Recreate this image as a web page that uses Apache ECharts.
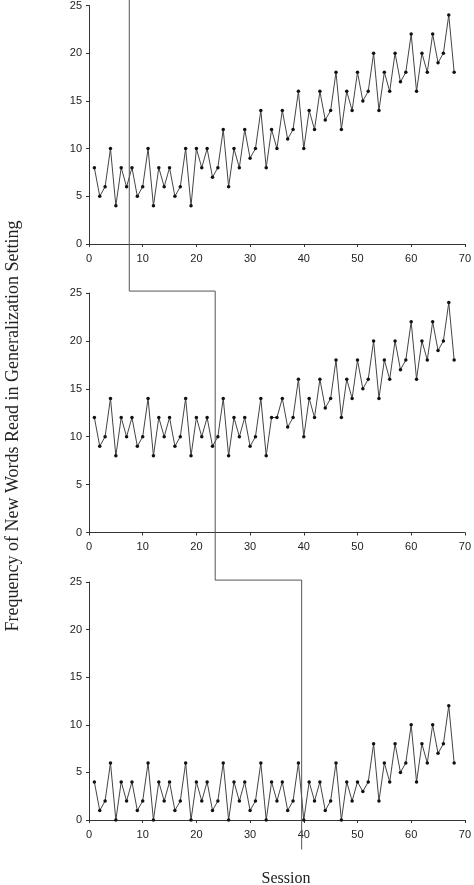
<!DOCTYPE html>
<html>
<head>
<meta charset="utf-8">
<script src="https://cdn.jsdelivr.net/npm/echarts@6/dist/echarts.min.js"></script>
<style>
html,body{margin:0;padding:0;background:#fff;}
#chart{width:474px;height:885px;}
</style>
</head>
<body>
<div id="chart"></div>
<script>
// Sessions 1..68
var sessions = [];
for (var s = 1; s <= 68; s++) sessions.push(s);

var panel1Values = [8,5,6,10,4,8,6,8,5,6,10,4,8,6,8,5,6,10,4,10,8,10,7,8,12,6,10,8,12,9,10,14,8,12,10,14,11,12,16,10,14,12,16,13,14,18,12,16,14,18,15,16,20,14,18,16,20,17,18,22,16,20,18,22,19,20,24,18];
var panel2Values = [12,9,10,14,8,12,10,12,9,10,14,8,12,10,12,9,10,14,8,12,10,12,9,10,14,8,12,10,12,9,10,14,8,12,12,14,11,12,16,10,14,12,16,13,14,18,12,16,14,18,15,16,20,14,18,16,20,17,18,22,16,20,18,22,19,20,24,18];
var panel3Values = [4,1,2,6,0,4,2,4,1,2,6,0,4,2,4,1,2,6,0,4,2,4,1,2,6,0,4,2,4,1,2,6,0,4,2,4,1,2,6,0,4,2,4,1,2,6,0,4,2,4,3,4,8,2,6,4,8,5,6,10,4,8,6,10,7,8,12,6];

var phaseChanges = [7.5, 23.5, 39.6];
var yTicks = [0, 5, 10, 15, 20, 25];
var xTicks = [0, 10, 20, 30, 40, 50, 60, 70];

var yAxisTitle = 'Frequency of New Words Read in Generalization Setting';
var xAxisTitle = 'Session';

var panels = [panel1Values, panel2Values, panel3Values];
var gridTops = [4, 293, 582];
var gridHeights = [240, 239.5, 238];

var chart = echarts.init(document.getElementById('chart'), null, {renderer: 'canvas'});

var grids = [], xAxes = [], yAxes = [], series = [];
panels.forEach(function (vals, i) {
  grids.push({left: 89, width: 378, top: gridTops[i], height: gridHeights[i], containLabel: false});
  xAxes.push({
    type: 'value', gridIndex: i, min: xTicks[0], max: xTicks[xTicks.length - 1], interval: 10,
    axisLine: {show: true, onZero: false, lineStyle: {color: '#333', width: 1}},
    axisTick: {show: true, length: 3, inside: false, lineStyle: {color: '#333'}},
    axisLabel: {color: '#222', fontSize: 11, fontFamily: 'Liberation Sans, Arial', margin: 9},
    splitLine: {show: false}
  });
  yAxes.push({
    type: 'value', gridIndex: i, min: yTicks[0], max: yTicks[yTicks.length - 1], interval: 5,
    axisLine: {show: true, lineStyle: {color: '#333', width: 1}},
    axisTick: {show: true, length: 3, lineStyle: {color: '#333'}},
    axisLabel: {color: '#222', fontSize: 11, fontFamily: 'Liberation Sans, Arial', margin: 7},
    splitLine: {show: false}
  });
  series.push({
    type: 'line', xAxisIndex: i, yAxisIndex: i,
    data: sessions.map(function (x, k) { return [x, vals[k]]; }),
    symbol: 'circle', symbolSize: 3.5,
    itemStyle: {color: '#111'},
    lineStyle: {color: '#444', width: 1},
    animation: false
  });
});

chart.setOption({
  animation: false,
  grid: grids, xAxis: xAxes, yAxis: yAxes, series: series
});

// Phase-change connector built through the axes' own scales
function px(g, x, y) { return chart.convertToPixel({gridIndex: g}, [x, y]); }
var a = px(0, phaseChanges[0], 25.4);
var b = px(1, phaseChanges[0], 25.2);
var c = px(1, phaseChanges[1], 25.2);
var d = px(2, phaseChanges[1], 25.2);
var e = px(2, phaseChanges[2], 25.2);
var f = px(2, phaseChanges[2], -3.1);
var pts = [[a[0], 0], [b[0], b[1]], [c[0], c[1]], [d[0], d[1]], [e[0], e[1]], [f[0], f[1]]];

chart.setOption({
  graphic: [
    {type: 'polyline', shape: {points: pts}, style: {stroke: '#555', lineWidth: 1, fill: null}, z: 10},
    {type: 'text', x: 13, y: 426, rotation: Math.PI / 2,
     style: {text: yAxisTitle, font: '18px "Liberation Serif", "Times New Roman", serif', fill: '#222', textAlign: 'center', textVerticalAlign: 'middle'}},
    {type: 'text', x: 286, y: 879,
     style: {text: xAxisTitle, font: '16px "Liberation Serif", "Times New Roman", serif', fill: '#222', textAlign: 'center', textVerticalAlign: 'middle'}}
  ]
});
</script>
</body>
</html>
